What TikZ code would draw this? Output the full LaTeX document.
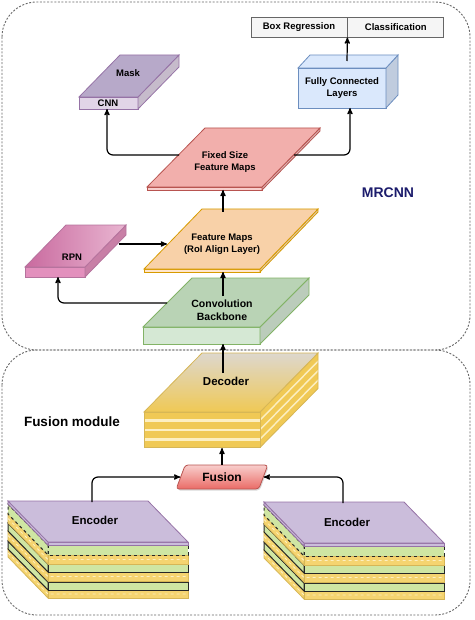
\documentclass[tikz,border=0pt]{standalone}
\usepackage{fontspec}
\setmainfont{Liberation Sans}
\usetikzlibrary{arrows,positioning,shapes.geometric,shadows}

\definecolor{mtop}{HTML}{B7A9C9}
\definecolor{mfront}{HTML}{E1D5E7}
\definecolor{mline}{HTML}{9673A6}
\definecolor{fcfill}{HTML}{DAE8FC}
\definecolor{fcline}{HTML}{6C8EBF}
\definecolor{redtop}{HTML}{F2AFAC}
\definecolor{redfront}{HTML}{F8CECC}
\definecolor{redline}{HTML}{B85450}
\definecolor{redbot}{HTML}{EA6B66}
\definecolor{orgtop}{HTML}{F8D1A8}
\definecolor{orgfront}{HTML}{FFE6CC}
\definecolor{orgline}{HTML}{D79B00}
\definecolor{rpnl}{HTML}{C96A9F}
\definecolor{rpnr}{HTML}{E9B6D1}
\definecolor{rpnfront}{HTML}{E390BD}
\definecolor{rpnline}{HTML}{B5739D}
\definecolor{grtop}{HTML}{B9D3B5}
\definecolor{grfront}{HTML}{D5E8D4}
\definecolor{grline}{HTML}{82B366}
\definecolor{ylw}{HTML}{F0C955}
\definecolor{ylwlight}{HTML}{FCEFC2}
\definecolor{ylwline}{HTML}{D6B656}
\definecolor{dtop}{HTML}{DDD7CD}
\definecolor{lgreen}{HTML}{CFE6A3}
\definecolor{ency}{HTML}{F5D470}
\definecolor{enctop}{HTML}{CBBDDB}
\definecolor{mrcnnblue}{HTML}{1C1C6C}

% slab: x, y (front top left), width, thickness, dx, dy (depth), top, front, line
\newcommand{\slab}[9]{%
  \filldraw[fill=#8,draw=#9] (#1,#2) rectangle (#1+#3,#2+#4);
  \filldraw[fill=#8!88!black,draw=#9] (#1+#3,#2) -- (#1+#3+#5,#2+#6)
    -- (#1+#3+#5,#2+#6+#4) -- (#1+#3,#2+#4) -- cycle;
  \path[#7,draw=#9] (#1,#2) -- (#1+#3,#2) -- (#1+#3+#5,#2+#6) -- (#1+#5,#2+#6) -- cycle;
}
% encoder sheet: x, y (front top left), thickness, style
\newcommand{\sheet}[4]{%
  \path[#4] (#1,#2) -- (#1-40,#2-41) -- (#1-40,#2-41+#3) -- (#1,#2+#3) -- cycle;
  \path[#4] (#1,#2) rectangle (#1+140,#2+#3);
  \path[#4] (#1,#2) -- (#1+140,#2) -- (#1+100,#2-41) -- (#1-40,#2-41) -- cycle;
}
\newcommand{\ysheet}[3]{%
  \sheet{#1}{#2}{#3}{yel}
  \draw[ylwlight,dashed] (#1-40,#2-41+#3/2) -- (#1,#2+#3/2) -- (#1+140,#2+#3/2);
}

\begin{document}
\begin{tikzpicture}[x=1pt,y=-1pt,>=stealth',line width=0.8pt,
  font=\bfseries\fontsize{9.5}{12}\selectfont]
  \tikzstyle{link}=[->,line width=1.2pt,rounded corners=6pt]
  \tikzstyle{frame}=[draw=black!60,line width=0.9pt,dash pattern=on 2pt off 1.6pt,
    rounded corners=35pt]
  \tikzstyle{outbox}=[draw=black!60,fill=black!4,minimum width=96pt,
    minimum height=20pt,inner sep=0pt]
  \tikzstyle{yel}=[fill=ency,draw=ylwline]
  \tikzstyle{grn}=[fill=lgreen,draw=black!85,line width=1pt]
  \tikzstyle{grnd}=[grn,dashed]
  \tikzstyle{ptop}=[fill=enctop,draw=mline]
  \tikzstyle{big}=[font=\bfseries\fontsize{11.5}{13}\selectfont]
  \tikzstyle{fusionbox}=[trapezium,trapezium left angle=70,trapezium right angle=110,
    trapezium stretches=true,minimum width=92pt,minimum height=24pt,rounded corners=3pt,
    draw=redline,top color=redfront,bottom color=redbot,
    drop shadow={opacity=0.3,shadow xshift=1pt,shadow yshift=-1.5pt},
    font=\bfseries\fontsize{12}{14}\selectfont]

  \useasboundingbox (0,0) rectangle (474,620);

  % dashed frames
  \draw[frame] (2,2) rectangle (470,350);
  \draw[frame] (2,350) rectangle (470,615);

  % outputs
  \node[outbox] (boxreg) at (299,27) {Box Regression};
  \node[outbox,right=0pt of boxreg] (cls) {Classification};

  % MRCNN blocks
  \slab{298}{68}{88}{40}{12}{-13}{fill=fcfill}{fcfill}{fcline}
  \slab{79}{97}{59}{12}{41}{-42}{fill=mtop}{mfront}{mline}
  \slab{147}{187}{115}{3}{58}{-59}{fill=redtop}{redfront}{redline}
  \slab{25}{267}{60}{10}{41}{-42}{left color=rpnl,right color=rpnr}{rpnfront}{rpnline}
  \slab{144}{269}{116}{3}{58}{-60}{fill=orgtop}{orgfront}{orgline}
  \slab{143}{327}{117}{17}{49}{-49}{fill=grtop}{grfront}{grline}

  % decoder
  \path[fill=ylwlight] (144,412) rectangle (260,447.5);
  \path[fill=ylwlight] (260,412) -- (318,353) -- (318,388.5) -- (260,447.5) -- cycle;
  \foreach \by in {412,421.5,431,440.5} {
    \path[fill=ylw] (144,\by) rectangle (260,\by+7);
    \path[fill=ylw] (260,\by) -- (318,\by-59) -- (318,\by-52) -- (260,\by+7) -- cycle;
  }
  \draw[ylwline] (144,412) rectangle (260,447.5);
  \draw[ylwline] (260,412) -- (318,353) -- (318,388.5) -- (260,447.5);
  \path[draw=ylwline,top color=dtop,bottom color=ylw]
    (144,412) -- (260,412) -- (318,353) -- (202,353) -- cycle;

  % encoders
  \foreach \ex/\ey in {48/0,304/1} {
    \ysheet{\ex}{590+\ey}{8}
    \sheet{\ex}{582+\ey}{8}{grn}
    \ysheet{\ex}{572+\ey}{9}
    \sheet{\ex}{564+\ey}{8}{grn}
    \ysheet{\ex}{555+\ey}{9}
    \sheet{\ex}{545+\ey}{10}{grnd}
    \sheet{\ex}{542+\ey}{3}{ptop}
  }

  % labels
  \node (fc) at (342,88) [align=center] {Fully Connected\\Layers};
  \node (mask) at (128,73) {Mask};
  \node (cnn) at (108,103) {CNN};
  \node (fixed) at (225,162) [align=center] {Fixed Size\\Feature Maps};
  \node (mrcnn) at (388,193) [font=\bfseries\fontsize{14}{16}\selectfont,text=mrcnnblue] {MRCNN};
  \node (feat) at (222,244) [align=center] {Feature Maps\\(RoI Align Layer)};
  \node (rpn) at (72,257) {RPN};
  \node (conv) at (222,310) [align=center,font=\bfseries\fontsize{10.5}{12.5}\selectfont] {Convolution\\Backbone};
  \node (dec) at (226,381) [big] {Decoder};
  \node (fusmod) at (72,422) [font=\bfseries\fontsize{13.5}{15}\selectfont] {Fusion module};
  \node[fusionbox] (fus) at (222,477) {Fusion};
  \node (encl) at (95,520) [big] {Encoder};
  \node (encr) at (347,522) [big] {Encoder};

  % arrow ends
  \coordinate (fc-t) at (347,61);
  \coordinate (fc-b) at (350,108);
  \coordinate (cnn-b) at (107,109);
  \coordinate (fix-l) at (179,155);
  \coordinate (fix-r) at (294,155);
  \coordinate (fix-b) at (223,190);
  \coordinate (feat-t) at (223,212);
  \coordinate (feat-l) at (167,244);
  \coordinate (feat-b) at (223,272);
  \coordinate (rpn-r) at (119,244);
  \coordinate (rpn-b) at (58,277);
  \coordinate (conv-t) at (223,296);
  \coordinate (conv-l) at (167,303);
  \coordinate (conv-b) at (223,344);
  \coordinate (dec-t) at (223,373);
  \coordinate (dec-b) at (222,448);
  \coordinate (encl-t) at (92,502);
  \coordinate (encr-t) at (343,503);

  \draw[link] (fc-t) -- (boxreg.south east);
  \draw[link] (fix-l) -| (cnn-b);
  \draw[link] (fix-r) -| (fc-b);
  \draw[link] (feat-t) -- (fix-b);
  \draw[link] (rpn-r) -- (feat-l);
  \draw[link] (conv-t) -- (feat-b);
  \draw[link] (conv-l) -| (rpn-b);
  \draw[link] (dec-t) -- (conv-b);
  \draw[link] (fus) -- (dec-b);
  \draw[link] (encl-t) |- (fus);
  \draw[link] (encr-t) |- (fus);
\end{tikzpicture}
\end{document}
